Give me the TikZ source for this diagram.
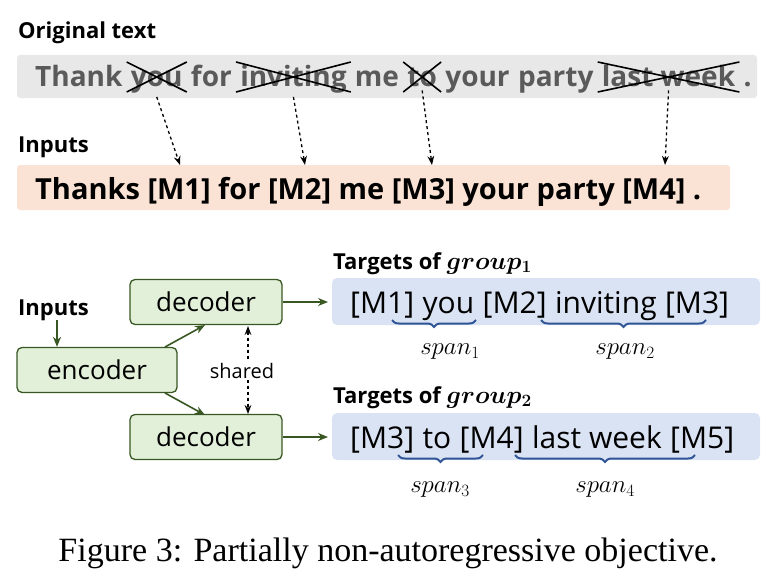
\documentclass[tikz,border=0pt]{standalone}
\usepackage{fontspec}
\usepackage{amsmath,bm}
\setmainfont{Open Sans}
\newfontfamily\capfont{Liberation Serif}
\usetikzlibrary{decorations.pathreplacing,arrows.meta}
\definecolor{graybar}{RGB}{232,232,232}
\definecolor{peach}{RGB}{250,226,212}
\definecolor{bluebox}{RGB}{218,227,243}
\definecolor{gfill}{RGB}{226,240,217}
\definecolor{gdraw}{RGB}{56,87,35}
\definecolor{brc}{RGB}{47,85,151}
\definecolor{txtgray}{RGB}{90,90,90}
\tikzset{
 wd/.style={inner sep=0pt,anchor=base west},
 gbox/.style={draw=gdraw,fill=gfill,rounded corners=5pt,line width=1.3pt,minimum width=152pt,minimum height=45pt,font=\fontsize{26}{30}\selectfont},
 garr/.style={draw=gdraw,line width=1.6pt,-{Stealth[length=10pt,width=8pt]}},
 darr/.style={dashed,line width=1.3pt,-{Stealth[length=9pt]}},
 xx/.style={line width=1.6pt,black},
 brace/.style={draw=brc,line width=2pt,decorate,decoration={brace,mirror,amplitude=7pt}},
 lab/.style={inner sep=0pt,anchor=base west,font=\fontsize{22}{26}\bfseries},
}
\begin{document}
\begin{tikzpicture}[x=1pt,y=-1pt]
\useasboundingbox (0,0) rectangle (773,578);
\fill[graybar,rounded corners=3pt] (17,55) rectangle (757,98);
\fill[peach,rounded corners=3pt] (17,165) rectangle (730,210);
\node[lab] (ot) at (18,38) {Original text};
\node[lab] (inl) at (18,152) {Inputs};
\begin{scope}[every node/.style={wd,text=txtgray,font=\fontsize{28}{32}\bfseries}]
\node (t1) at (35,86) {Thank};
\node (t2) at ([xshift=8pt]t1.base east) {you};
\node (t3) at ([xshift=8pt]t2.base east) {for};
\node (t4) at ([xshift=8pt]t3.base east) {inviting};
\node (t5) at ([xshift=8pt]t4.base east) {me};
\node (t6) at ([xshift=8pt]t5.base east) {to};
\node (t7) at ([xshift=8pt]t6.base east) {your};
\node (t8) at ([xshift=8pt]t7.base east) {party};
\node (t9) at ([xshift=8pt]t8.base east) {last week};
\node (t10) at ([xshift=8pt]t9.base east) {.};
\end{scope}
\foreach \w in {t2,t4,t6,t9}{
 \draw[xx] ([xshift=-4pt]\w.north west |- 0,62) -- ([xshift=4pt]\w.south east |- 0,92);
 \draw[xx] ([xshift=-4pt]\w.south west |- 0,92) -- ([xshift=4pt]\w.north east |- 0,62);
}
\node[wd,font=\fontsize{29}{33}\bfseries] (inp) at (35,199) {Thanks [M1] for [M2] me [M3] your party [M4] .};
\coordinate (a1) at (180,165); \coordinate (a2) at (305,165);
\coordinate (a3) at (432,165); \coordinate (a4) at (665,165);
\draw[darr] ([yshift=-4pt]t2.south) -- (a1);
\draw[darr] ([yshift=-4pt]t4.south) -- (a2);
\draw[darr] ([yshift=-4pt]t6.south) -- (a3);
\draw[darr] ([yshift=-4pt]t9.south) -- (a4);
\node[gbox] (d1) at (206,302) {decoder};
\node[gbox,minimum width=160pt] (enc) at (97,370) {encoder};
\node[gbox] (d2) at (206,437) {decoder};
\node[lab] (in2) at (18,315) {Inputs};
\draw[garr] (57,320) -- (enc.north -| 57,0);
\draw[garr] (165,347) -- (205,325);
\draw[garr] (165,393) -- (205,415);
\draw[dashed,line width=1.3pt,{Stealth[length=9pt]}-{Stealth[length=9pt]}] (248,326) -- (248,414);
\node[fill=white,inner sep=1pt,font=\fontsize{20}{24}\selectfont] (sh) at (242,371) {shared};
\fill[bluebox,rounded corners=5pt] (332,278) rectangle (760,325);
\fill[bluebox,rounded corners=5pt] (332,413) rectangle (760,460);
\draw[garr] (d1.east) -- (328,302);
\draw[garr] (d2.east) -- (328,437);
\node[lab] (tg1) at (333,269) {Targets of {\fontsize{27}{30}\selectfont$\bm{group_1}$}};
\node[lab] (tg2) at (333,403) {Targets of {\fontsize{27}{30}\selectfont$\bm{group_2}$}};
\begin{scope}[every node/.style={wd,font=\fontsize{30}{34}\selectfont}]
\node (u1) at (350,313) {[M1]};
\node (u2) at ([xshift=8pt]u1.base east) {you};
\node (u3) at ([xshift=8pt]u2.base east) {[M2]};
\node (u4) at ([xshift=8pt]u3.base east) {inviting};
\node (u5) at ([xshift=8pt]u4.base east) {[M3]};
\node (v1) at (350,448) {[M3]};
\node (v2) at ([xshift=8pt]v1.base east) {to};
\node (v3) at ([xshift=8pt]v2.base east) {[M4]};
\node (v4) at ([xshift=8pt]v3.base east) {last week};
\node (v5) at ([xshift=8pt]v4.base east) {[M5]};
\end{scope}
\draw[brace] (392,320) -- (476,320);
\draw[brace] (541,320) -- (706,320);
\draw[brace] (398,455) -- (483,455);
\draw[brace] (515,455) -- (695,455);
\begin{scope}[every node/.style={font=\fontsize{24}{28}\selectfont}]
\node (s1) at (450,352) {$span_1$};
\node (s2) at (625,352) {$span_2$};
\node (s3) at (440,490) {$span_3$};
\node (s4) at (605,490) {$span_4$};
\end{scope}
\node[font=\capfont\fontsize{34}{38}\selectfont] (cap) at (388,553) {Figure 3: Partially non-autoregressive objective.};
\end{tikzpicture}
\end{document}
